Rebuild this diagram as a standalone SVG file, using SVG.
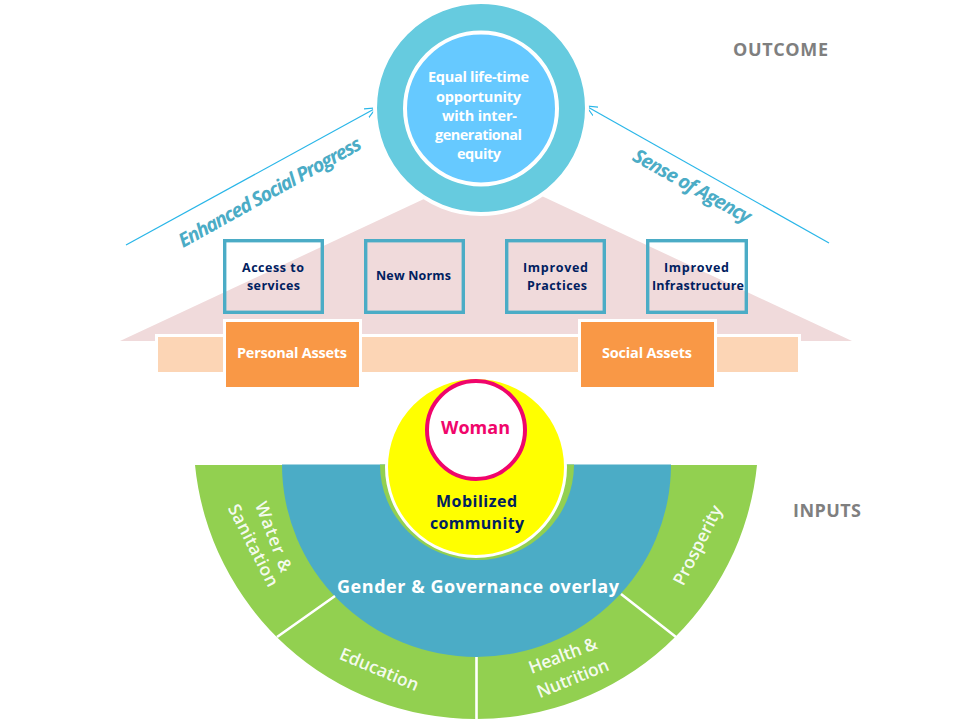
<svg xmlns="http://www.w3.org/2000/svg" width="963" height="727" viewBox="0 0 963 727">
<style>
text{font-family:"Open Sans","Noto Sans","Liberation Sans",sans-serif;font-weight:700;text-anchor:middle}
.w{fill:#fff}.n{fill:#002060}.g{fill:#7f7f7f;font-size:18px}
.c{font-size:13.5px}.b{font-size:12.500px}.o{font-size:14.500px}
.s{fill:#fff;fill-opacity:.92;font-size:17.500px;font-weight:600}
.i{fill:#4bacc6;font-size:19.500px;font-style:italic}
.box{fill:none;stroke:#4bacc6;stroke-width:3.4}
.as{fill:#f99846;stroke:#fff;stroke-width:3}
.div{stroke:#fff;stroke-width:2.6;fill:none}
.ar{stroke:#29b6e8;stroke-width:1.2;fill:none}
</style>
<defs><marker id="h" viewBox="0 0 12 12" refX="11" refY="6" markerWidth="12" markerHeight="12" markerUnits="userSpaceOnUse" orient="auto"><path d="M0 1L11 6L0 11" fill="none" stroke="#29b6e8" stroke-width="1.2"/></marker></defs>
<rect width="963" height="727" fill="#fff"/>
<g id="connectors">
<path class="ar" d="M126 245L376 108" marker-end="url(#h)"/>
<path class="ar" d="M829 243L586 106" marker-end="url(#h)"/>
</g>
<g id="label-progress"><text class="i" transform="translate(273 198) rotate(-29)" textLength="206">Enhanced Social Progress</text></g>
<g id="label-agency"><text class="i" transform="translate(689 192) rotate(29)" textLength="132">Sense of Agency</text></g>
<g id="roof"><path d="M120 341L486 170L852 341Z" fill="#f0dadb"/></g>
<g id="bar"><rect x="156.500" y="335.500" width="643" height="38" fill="#fcd5b5" stroke="#fff" stroke-width="3"/></g>
<g id="outcome-circle">
<circle cx="481" cy="108" r="106" fill="#66cbdf" stroke="#fff" stroke-width="4"/>
<circle cx="481" cy="108.500" r="76" fill="#66c9ff" stroke="#fff" stroke-width="4"/>
<text class="w o" x="478.500" y="82" textLength="101">Equal life-time</text>
<text class="w o" x="478.500" y="101.500" textLength="85">opportunity</text>
<text class="w o" x="479.500" y="120.500" textLength="75">with inter-</text>
<text class="w o" x="478.500" y="140" textLength="87">generational</text>
<text class="w o" x="479" y="159" textLength="44">equity</text>
</g>
<g id="node-access"><rect class="box" x="224.700" y="240.700" width="97.600" height="71.600"/>
<text class="n b" x="273" y="272" textLength="62">Access to</text><text class="n b" x="273.500" y="290" textLength="53">services</text></g>
<g id="node-norms"><rect class="box" x="365.700" y="240.700" width="97.600" height="71.600"/>
<text class="n b" x="413.500" y="280" textLength="75">New Norms</text></g>
<g id="node-practices"><rect class="box" x="506.700" y="240.700" width="97.600" height="71.600"/>
<text class="n b" x="555.500" y="272" textLength="65">Improved</text><text class="n b" x="557" y="290" textLength="60">Practices</text></g>
<g id="node-infrastructure"><rect class="box" x="647.700" y="240.700" width="98.600" height="71.600"/>
<text class="n b" x="696.500" y="272" textLength="65">Improved</text><text class="n b" x="698" y="290" textLength="92">Infrastructure</text></g>
<g id="node-personal"><rect class="as" x="224.500" y="320.500" width="136" height="68"/><text class="w o" x="292" y="358" textLength="110">Personal Assets</text></g>
<g id="node-social"><rect class="as" x="579.500" y="320.500" width="136" height="68"/><text class="w o" x="647" y="358" textLength="90">Social Assets</text></g>
<g id="inputs-arc">
<path d="M195 465H757A282 282 0 0 1 476 719A282 282 0 0 1 195 465Z" fill="#92d050"/>
<path d="M282 464.500H671A194.500 192.500 0 0 1 282 464.500Z" fill="#4bacc6"/>
<path class="div" d="M335 596L277 637M476.500 657V720M621 594L676 637"/>
<path d="M380 464.500H574A97 95.500 0 0 1 380 464.500Z" fill="#92d050"/>
<text class="s" transform="translate(268 539) rotate(69)" textLength="74">Water &amp;</text>
<text class="s" transform="translate(248 548) rotate(63)" textLength="90">Sanitation</text>
<text class="s" transform="translate(377 675) rotate(23)" textLength="84">Education</text>
<text class="s" transform="translate(565 661) rotate(-21)" textLength="72">Health &amp;</text>
<text class="s" transform="translate(575 684) rotate(-22)" textLength="76">Nutrition</text>
<text class="s" transform="translate(703 548) rotate(-63)" textLength="87">Prosperity</text>
<text class="w" style="font-size:18px" x="478" y="593" textLength="282">Gender &amp; Governance  overlay</text>
</g>
<g id="node-community"><circle cx="476" cy="467" r="89.500" fill="#ff0" stroke="#fff" stroke-width="3"/>
<text class="n" style="font-size:16px" x="476.500" y="507" textLength="81">Mobilized</text>
<text class="n" style="font-size:16px" x="477" y="529" textLength="94">community</text></g>
<g id="node-woman"><circle cx="476" cy="430" r="49" fill="#fff" stroke="#f0056b" stroke-width="4"/>
<text x="475.500" y="434" style="font-size:18px;fill:#f0056b" textLength="69">Woman</text></g>
<g id="label-outcome"><text class="g" x="780.500" y="56" textLength="95">OUTCOME</text></g>
<g id="label-inputs"><text class="g" x="827" y="517" textLength="68">INPUTS</text></g>
</svg>
